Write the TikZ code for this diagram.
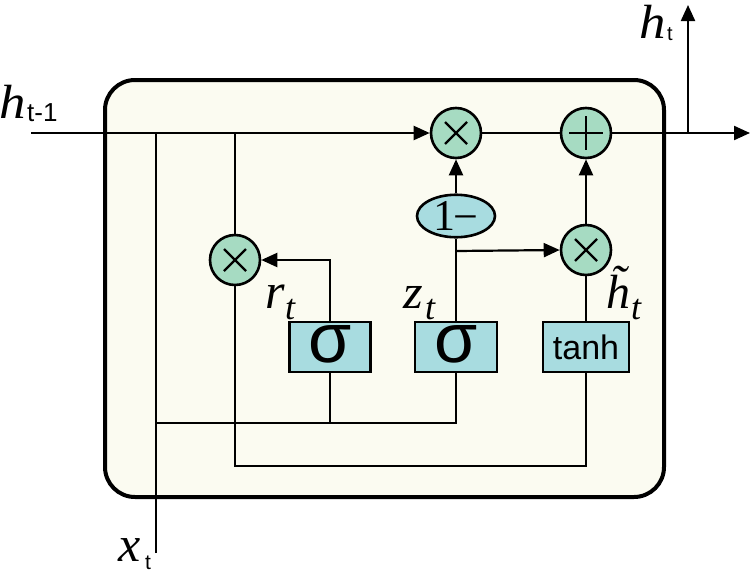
\documentclass[tikz,border=0pt]{standalone}
\usepackage{fontspec}
\usepackage{graphicx}
\setmainfont{Liberation Serif}
\newfontfamily\arial{Liberation Sans}
\usetikzlibrary{arrows.meta,shapes.geometric,calc}
\definecolor{cream}{HTML}{FBFBF1}
\definecolor{mint}{HTML}{A6DBC2}
\definecolor{cyanbox}{HTML}{A8DCE0}
\tikzset{
  wire/.style={line width=2.2pt, black},
  arr/.style={wire, -{Triangle[length=16pt,width=14pt]}},
  opcirc/.style={circle, draw=black, line width=2.6pt, fill=mint, minimum size=50pt, inner sep=0pt},
  gatebox/.style={rectangle, draw=black, line width=2.6pt, fill=cyanbox, minimum height=50pt, inner sep=0pt},
  ovalbox/.style={ellipse, draw=black, line width=2.6pt, fill=cyanbox, minimum width=78pt, minimum height=42pt, inner sep=0pt},
  lbl/.style={inner sep=0pt, anchor=base west, font=\itshape},
  sublbl/.style={inner sep=0pt, anchor=base west, font=\arial},
}
\newcommand{\mycross}[1]{\draw[line width=2.2pt] ($(#1)+(-11,-11)$) -- ($(#1)+(11,11)$) ($(#1)+(-11,11)$) -- ($(#1)+(11,-11)$);}
\newcommand{\myplus}[1]{\draw[line width=2.6pt] ($(#1)+(-17,0)$) -- ($(#1)+(17,0)$) ($(#1)+(0,-17)$) -- ($(#1)+(0,17)$);}
\newcommand{\fs}[1]{\fontsize{#1}{#1}\selectfont}
\newcommand{\wide}[2]{\scalebox{#1}[1]{#2}}
\begin{document}
\begin{tikzpicture}[x=1pt,y=-1pt]
\useasboundingbox (0,0) rectangle (755,576);
% cell box
\draw[line width=4pt, fill=cream, rounded corners=30pt] (105,80) rectangle (664,497);
% nodes
\node[opcirc] (rm) at (235,260) {};
\node[opcirc] (tm) at (456,133) {};
\node[opcirc] (pl) at (586,133) {};
\node[opcirc] (zm) at (586,250) {};
\node[ovalbox] (om) at (456,216) {\fs{44}\raisebox{1pt}{1}\kern-2pt−};
\node[gatebox, minimum width=81pt] (sr) at (330,347) {\arial\fs{70}\raisebox{6pt}{σ}};
\node[gatebox, minimum width=82pt] (sz) at (456,347) {\arial\fs{70}\raisebox{6pt}{σ}};
\node[gatebox, minimum width=86pt] (th) at (586,347) {\arial\fs{34}tanh};
\mycross{rm}\mycross{tm}\mycross{zm}\myplus{pl}
% coordinates
\coordinate (hin) at (31,133);
\coordinate (hout) at (750,133);
\coordinate (hup0) at (688,133);
\coordinate (hup) at (688,5);
\coordinate (xin) at (156,553);
\coordinate (xtop) at (156,133);
\coordinate (rtop) at (235,133);
\coordinate (bus1l) at (156,423);
\coordinate (bus1r) at (456,423);
\coordinate (bus1m) at (330,423);
\coordinate (bus2l) at (235,466);
\coordinate (bus2r) at (586,466);
\coordinate (zbr) at (456,251);
% wires
\draw[arr] (hin) -- (tm.west);
\draw[wire] (tm.east) -- (pl.west);
\draw[arr] (pl.east) -- (hout);
\draw[arr] (hup0) -- (hup);
\draw[wire] (xin) -- (xtop);
\draw[wire] (rtop) -- (rm.north);
\draw[wire] (bus1l) -- (bus1r) -- (sz.south);
\draw[wire] (bus1m) -- (sr.south);
\draw[wire] (rm.south) -- (bus2l) -- (bus2r) -- (th.south);
\draw[arr] (sr.north) |- (rm.east);
\draw[wire] (sz.north) -- (om.south);
\draw[arr] (zbr) -- (zm.west);
\draw[arr] (om.north) -- (tm.south);
\draw[wire] (th.north) -- (zm.south);
\draw[arr] (zm.north) -- (pl.south);
% labels
\node[lbl] (lh) at (-1,118) {\fs{48}\wide{1.1}{h}};
\node[sublbl] (lhs) at (27,121) {\fs{26}t-1};
\node[lbl] (lht) at (639,38) {\fs{48}\wide{1.1}{h}};
\node[sublbl] (lhts) at (667,40) {\fs{20}t};
\node[lbl] (lx) at (118,561) {\fs{50}x};
\node[sublbl] (lxs) at (145,569) {\fs{21}t};
\node[lbl] (lr) at (265,308) {\fs{50}r};
\node[lbl] (lrs) at (285,319) {\fs{36}t};
\node[lbl] (lz) at (403,308) {\fs{48}\wide{1.05}{z}};
\node[lbl] (lzs) at (425,319) {\fs{36}t};
\node[lbl] (lh2) at (606,308) {\fs{48}\~h};
\node[lbl] (lh2s) at (631,319) {\fs{36}t};
\end{tikzpicture}
\end{document}
